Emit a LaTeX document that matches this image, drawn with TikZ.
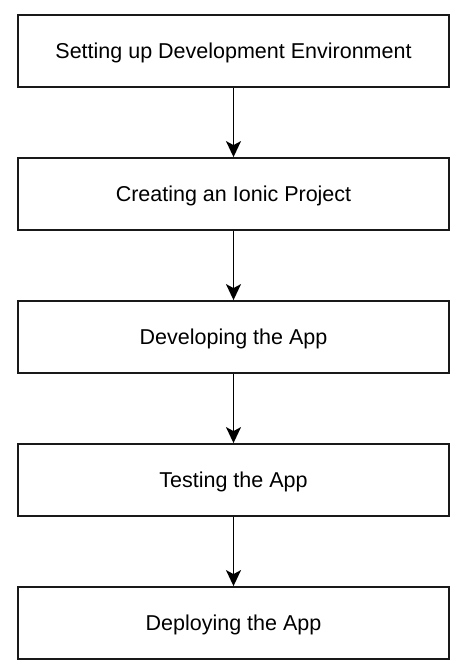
\documentclass[tikz,border=0pt]{standalone}
\usepackage{fontspec}
\setmainfont{Liberation Sans}
\usetikzlibrary{arrows.meta}
\begin{document}
\begin{tikzpicture}[x=1pt,y=-1pt,
  stepbox/.style={draw=black!90, line width=1.8pt, minimum width=431pt, minimum height=72pt, inner sep=0pt, text depth=0pt, font=\fontsize{21.5}{26}\selectfont},
  flow/.style={line width=1.5pt, -{Stealth[length=16pt,width=15pt,inset=4pt]}}]
\useasboundingbox (0,0) rectangle (474,668);
\node[stepbox] (s1) at (233.5,51) {Setting up Development Environment};
\node[stepbox] (s2) at (233.5,194) {Creating an Ionic Project};
\node[stepbox] (s3) at (233.5,337) {Developing the App};
\node[stepbox] (s4) at (233.5,480) {Testing the App};
\node[stepbox] (s5) at (233.5,623) {Deploying the App};
\draw[flow] (s1) -- (s2);
\draw[flow] (s2) -- (s3);
\draw[flow] (s3) -- (s4);
\draw[flow] (s4) -- (s5);
\end{tikzpicture}
\end{document}
